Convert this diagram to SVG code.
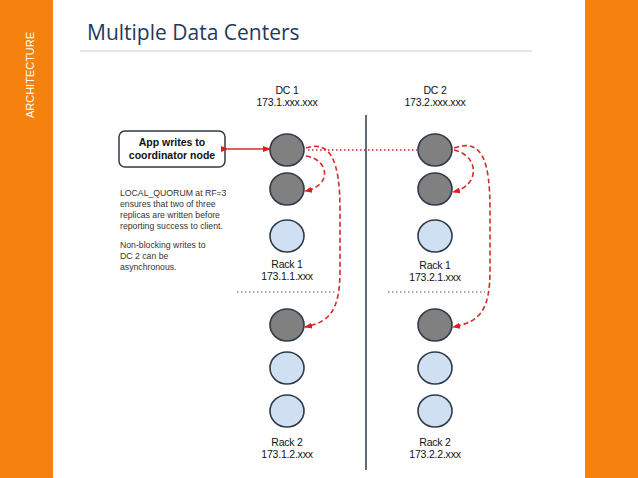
<svg xmlns="http://www.w3.org/2000/svg" width="638" height="478" viewBox="0 0 638 478">
<style>
text{font-family:"Liberation Sans",Arial,sans-serif;fill:#111}
.g{fill:#808080;stroke:#2e3a48;stroke-width:1.6}
.b{fill:#cfe0f3;stroke:#2e3a48;stroke-width:1.6}
.d{fill:none;stroke:#d42a2a;stroke-width:1.6;stroke-dasharray:5,3}
.dot{stroke:#555;stroke-width:1.2;stroke-dasharray:1.5,2.5}
.lbl{font-size:10.5px;text-anchor:middle;letter-spacing:-0.2px}
</style>
<defs>
<marker id="ah" markerWidth="8" markerHeight="8" refX="7" refY="4" orient="auto" markerUnits="userSpaceOnUse"><path d="M0,1 L8,4 L0,7z" fill="#e01c1c"/></marker>
</defs>
<rect width="638" height="478" fill="#fff"/>
<rect x="0" y="0" width="53" height="478" fill="#f5820f"/>
<rect x="585" y="0" width="53" height="478" fill="#f5820f"/>
<text transform="translate(34,75) rotate(-90)" text-anchor="middle" style="font-size:11px;fill:#fff">ARCHITECTURE</text>
<text x="87" y="40" style="font-family:'Open Sans','Liberation Sans',sans-serif;font-size:21px;fill:#1f3a5a">Multiple Data Centers</text>
<line x1="80" y1="51" x2="532" y2="51" stroke="#ccc" stroke-width="1"/>
<line x1="366" y1="115" x2="366" y2="470" stroke="#3a4756" stroke-width="1.6"/>
<g id="labels">
<text class="lbl" x="287" y="94">DC 1</text><text class="lbl" x="287" y="106">173.1.xxx.xxx</text>
<text class="lbl" x="435" y="94">DC 2</text><text class="lbl" x="435" y="106">173.2.xxx.xxx</text>
<text class="lbl" x="287" y="268">Rack 1</text><text class="lbl" x="287" y="280">173.1.1.xxx</text>
<text class="lbl" x="435" y="269">Rack 1</text><text class="lbl" x="435" y="281">173.2.1.xxx</text>
<text class="lbl" x="287" y="446">Rack 2</text><text class="lbl" x="287" y="458">173.1.2.xxx</text>
<text class="lbl" x="435" y="446">Rack 2</text><text class="lbl" x="435" y="458">173.2.2.xxx</text>
</g>
<g id="note" style="font-size:8.7px">
<text x="120" y="196" style="fill:#333">LOCAL_QUORUM at RF=3</text>
<text x="120" y="207" style="fill:#333">ensures that two of three</text>
<text x="120" y="218" style="fill:#333">replicas are written before</text>
<text x="120" y="229" style="fill:#333">reporting success to client.</text>
<text x="120" y="248" style="fill:#333">Non-blocking writes to</text>
<text x="120" y="259" style="fill:#333">DC 2 can be</text>
<text x="120" y="270" style="fill:#333">asynchronous.</text>
</g>
<g id="app"><rect x="119" y="131" width="106" height="36" rx="6" fill="#fff" stroke="#2e3a48" stroke-width="1.5"/>
<text x="172" y="146" text-anchor="middle" style="font-size:10.5px;font-weight:bold">App writes to</text>
<text x="172" y="159" text-anchor="middle" style="font-size:10.5px;font-weight:bold">coordinator node</text></g>
<g id="dc1r1"><ellipse class="g" cx="287" cy="150" rx="17" ry="16"/><ellipse class="g" cx="287" cy="189" rx="17" ry="16"/><ellipse class="b" cx="287" cy="236" rx="17" ry="16"/></g>
<g id="dc1r2"><ellipse class="g" cx="287" cy="325" rx="17" ry="16"/><ellipse class="b" cx="287" cy="368" rx="17" ry="16"/><ellipse class="b" cx="287" cy="411" rx="17" ry="16"/></g>
<g id="dc2r1"><ellipse class="g" cx="435" cy="150" rx="17" ry="16"/><ellipse class="g" cx="435" cy="189" rx="17" ry="16"/><ellipse class="b" cx="435" cy="236" rx="17" ry="16"/></g>
<g id="dc2r2"><ellipse class="g" cx="435" cy="325" rx="17" ry="16"/><ellipse class="b" cx="435" cy="368" rx="17" ry="16"/><ellipse class="b" cx="435" cy="411" rx="17" ry="16"/></g>
<g id="connectors">
<line class="dot" x1="237" y1="292" x2="336" y2="292"/>
<line class="dot" x1="388" y1="292" x2="485" y2="292"/>
<line x1="308" y1="150" x2="417" y2="150" stroke="#d42a2a" stroke-width="1.4" stroke-dasharray="1.5,2.5"/>
<line x1="228" y1="149" x2="270" y2="149" stroke="#d42a2a" stroke-width="1.6" marker-start="url(#ah)" marker-end="url(#ah)"/>
<path class="d" d="M306,156 C330,160 332,186 305,191" marker-end="url(#ah)"/>
<path class="d" d="M306,148 C330,140 340,160 340,210 L340,270 C340,310 330,322 305,327" marker-end="url(#ah)"/>
<path class="d" d="M454,150 C480,156 480,186 453,192" marker-end="url(#ah)"/>
<path class="d" d="M454,148 C482,138 490,160 490,210 L490,270 C490,310 480,322 453,327" marker-end="url(#ah)"/>
</g>
</svg>
